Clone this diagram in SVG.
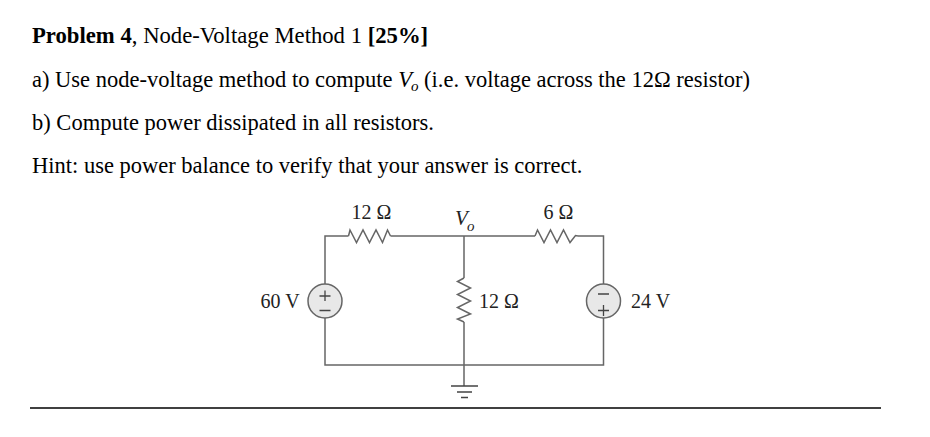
<svg xmlns="http://www.w3.org/2000/svg" width="930" height="437" viewBox="0 0 930 437">
<style>
text{font-family:"Liberation Serif","Times New Roman",serif;fill:#000}
.h{font-size:22.500px}
.c{font-size:20px;fill:#222}
.w{fill:none;stroke:#666;stroke-width:1.5}
.s{fill:#e8e8e8;stroke:#666;stroke-width:1.5}
.g{fill:none;stroke:#444;stroke-width:1.3}
</style>
<rect width="930" height="437" fill="#fff"/>
<g id="problem-text">
<text class="h" x="32" y="43" style="font-size:22.700px"><tspan font-weight="bold">Problem 4</tspan>, Node-Voltage Method 1 <tspan font-weight="bold">[25%]</tspan></text>
<text class="h" x="32" y="87">a) Use node-voltage method to compute <tspan font-style="italic">V</tspan><tspan font-style="italic" font-size="15" dy="4" dx="-1">o</tspan><tspan dy="-4"> (i.e. voltage across the 12Ω resistor)</tspan></text>
<text class="h" x="32" y="130">b) Compute power dissipated in all resistors.</text>
<text class="h" x="32" y="173">Hint: use power balance to verify that your answer is correct.</text>
</g>
<g id="connectors">
<path class="w" d="M325 284V236H348.500M390.500 236H535M578 236H603.500V284M464 236V278M464 322V386M325 318V365H603.500V318"/>
</g>
<g id="r1"><path class="w" d="M348.500 236L350 230L356.500 242.500L363 230L369.500 242.500L376 230L382.500 242.500L387.500 230L390.500 236"/><text class="c" x="371.500" y="219" text-anchor="middle">12 Ω</text></g>
<g id="r2"><path class="w" d="M464 278L457.500 281.500L470.500 288L457.500 294.500L470.500 301L457.500 307.500L470.500 314L457.500 319L464 322"/><text class="c" x="479" y="308">12 Ω</text></g>
<g id="r3"><path class="w" d="M535 236L537.500 230L544 242.500L550.500 230L557 242.500L563.500 230L570 242.500L575.500 235.500L578 236"/><text class="c" x="558.500" y="219" text-anchor="middle">6 Ω</text></g>
<g id="vo"><text x="455" y="225" font-style="italic" style="font-size:21px;fill:#222">V</text><text x="467" y="231" font-style="italic" style="font-size:15px;fill:#222">o</text></g>
<g id="v60"><circle class="s" cx="325" cy="301" r="17"/><path class="g" d="M319.500 296H330.500M325 290.500V301M319.500 310.500H330.500"/><text class="c" x="260.500" y="308">60 V</text></g>
<g id="v24"><circle class="s" cx="603.500" cy="301" r="17"/><path class="g" d="M598 294H609M598 310.500H609M603.500 305V316"/><text class="c" x="631" y="308">24 V</text></g>
<g id="ground"><path class="g" d="M451 386H478M457 392H472M461 397.500H468"/></g>
<g id="rule"><path d="M30 408H881" stroke="#000" stroke-width="1.400"/></g>
</svg>
